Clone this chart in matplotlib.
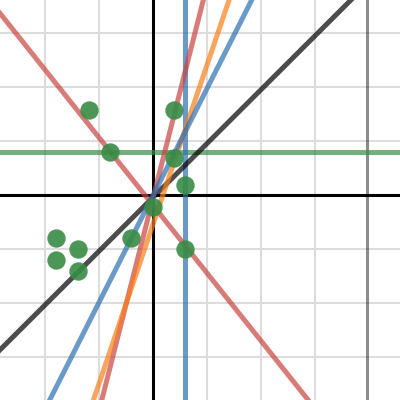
import numpy as np
import matplotlib
matplotlib.use("Agg")
import matplotlib.pyplot as plt

# --- data (grid step = 1) ---
pts_x = [-1.20, -0.80, 0.39, 0.39, 0.59, -0.01, -0.41, 0.59, -1.80, -1.39, -1.80, -1.39]
pts_y = [1.57, 0.79, 1.57, 0.69, 0.19, -0.22, -0.80, -1.01, -0.80, -1.00, -1.20, -1.41]

# sloped lines: y = m*x + b
line_slopes = [0.997, -1.255, 3.94, 2.95, 1.98]
line_intercepts = [-0.04, -0.20, -0.04, -0.53, 0.00]
line_colors = ['#000000', '#c74440', '#c74440', '#fa7e19', '#2d70b3']

h_line_y = 0.79      # green horizontal
v_line_x = 0.59      # blue vertical
gray_line_x = 3.95   # gray vertical

x_lim = (-2.84, 4.57)
y_lim = (-3.80, 3.61)
x_grid = [-2, -1, 1, 2, 3]
y_grid = [-3, -2, -1, 1, 2, 3]

fig = plt.figure(figsize=(4, 4), dpi=100)
ax = fig.add_axes([0, 0, 1, 1])
ax.set_xlim(*x_lim)
ax.set_ylim(*y_lim)
for s in ax.spines.values():
    s.set_visible(False)
ax.set_xticks([])
ax.set_yticks([])

for gx in x_grid:
    ax.axvline(gx, color='#dddddd', lw=1.5, zorder=0)
for gy in y_grid:
    ax.axhline(gy, color='#dddddd', lw=1.5, zorder=0)

ax.axhline(0, color='black', lw=2.2, zorder=1)
ax.axvline(0, color='black', lw=2.2, zorder=1)

ax.axvline(gray_line_x, color='black', alpha=0.45, lw=2.2, zorder=2)
ax.axhline(h_line_y, color='#388c46', alpha=0.7, lw=3.6, zorder=2)
ax.axvline(v_line_x, color='#2d70b3', alpha=0.7, lw=3.6, zorder=2)

for m, b, c in zip(line_slopes, line_intercepts, line_colors):
    ax.axline((0, b), slope=m, color=c, alpha=0.7, lw=3.6, zorder=2)

ax.scatter(pts_x, pts_y, s=175, color='#388c46', alpha=0.9, linewidths=0, zorder=3)

fig.savefig("out.png", dpi=100)
